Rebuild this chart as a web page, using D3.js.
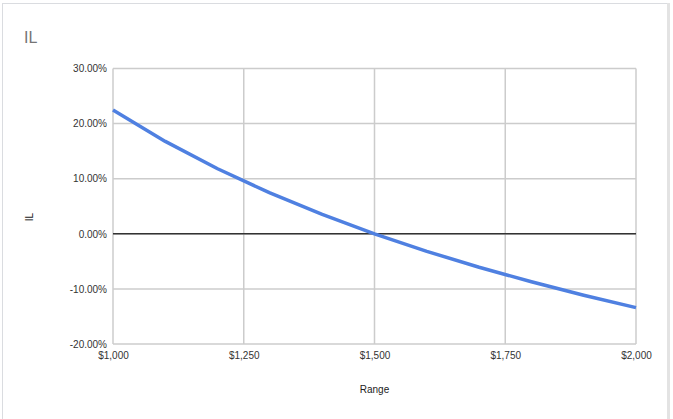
<!DOCTYPE html>
<html>
<head>
<meta charset="utf-8">
<script src="https://cdn.jsdelivr.net/npm/d3@7"></script>
<style>
  body { margin: 0; background: #fff; }
  text { font-family: Arial, "Liberation Sans", sans-serif; }
</style>
</head>
<body>
<svg id="chart" width="673" height="419"></svg>
<script>
// price points along the range and the IL value
var prices = [1000, 1100, 1200, 1300, 1400, 1500, 1600, 1700, 1800, 1900, 2000];
var ilValues = [0.2247, 0.1677, 0.1180, 0.0742, 0.0351, 0.0, -0.0318, -0.0607, -0.0871, -0.1115, -0.1340];
var xTicks = [1000, 1250, 1500, 1750, 2000];
var yTicks = [-0.2, -0.1, 0, 0.1, 0.2, 0.3];

var svg = d3.select("#chart");
var margin = {left: 113, right: 37, top: 68.5, bottom: 75};
var W = 673, H = 419;

// card frame
svg.append("rect")
    .attr("x", 2.5).attr("y", 3.5)
    .attr("width", 665).attr("height", 420)
    .attr("fill", "#fff")
    .attr("stroke", "#dadce0");
svg.append("rect")
    .attr("x", 667).attr("y", 3)
    .attr("width", 3).attr("height", 416)
    .attr("fill", "#e3e3e3");

var x = d3.scaleLinear().domain([1000, 2000]).range([margin.left, W - margin.right]);
var y = d3.scaleLinear().domain([-0.2, 0.3]).range([H - margin.bottom, margin.top]);

// grid
svg.append("g").selectAll("line").data(yTicks).join("line")
    .attr("x1", x(1000)).attr("x2", x(2000))
    .attr("y1", d => y(d)).attr("y2", d => y(d))
    .attr("stroke", "#cccccc")
    .attr("stroke-width", 1.5);
svg.append("g").selectAll("line").data(xTicks).join("line")
    .attr("x1", d => x(d)).attr("x2", d => x(d))
    .attr("y1", y(0.3)).attr("y2", y(-0.2))
    .attr("stroke", "#cccccc")
    .attr("stroke-width", 1.5);
// zero line on top
svg.append("line")
    .attr("x1", x(1000)).attr("x2", x(2000))
    .attr("y1", y(0)).attr("y2", y(0))
    .attr("stroke", "#333").attr("stroke-width", 1.6);

var pct = d3.format(".2f");
var yAxis = d3.axisLeft(y).tickValues(yTicks).tickSize(0).tickPadding(6)
    .tickFormat(d => pct(d * 100).replace("\u2212", "-") + "%");
var gy = svg.append("g").attr("transform", "translate(" + x(1000) + ",0)").call(yAxis);
gy.select(".domain").remove();
gy.selectAll("text").attr("font-size", 10).attr("fill", "#333").attr("font-family", "Arial, 'Liberation Sans', sans-serif");

var xAxis = d3.axisBottom(x).tickValues(xTicks).tickSize(0).tickPadding(8)
    .tickFormat(d => "$" + d3.format(",")(d));
var gx = svg.append("g").attr("transform", "translate(0," + y(-0.2) + ")").call(xAxis);
gx.select(".domain").remove();
gx.selectAll("text").attr("font-size", 10).attr("fill", "#333").attr("font-family", "Arial, 'Liberation Sans', sans-serif");

// line
var line = d3.line().x((d, i) => x(prices[i])).y(d => y(d));
svg.append("path")
    .datum(ilValues)
    .attr("d", line)
    .attr("fill", "none")
    .attr("stroke", "#4f80e1")
    .attr("stroke-width", 3.5)
    .attr("stroke-linejoin", "round");

// titles
svg.append("text").attr("x", 24).attr("y", 43)
    .attr("font-size", 16).attr("fill", "#757575").text("IL");
svg.append("text")
    .attr("transform", "translate(33,217) rotate(-90)")
    .attr("text-anchor", "middle")
    .attr("font-size", 10).attr("fill", "#222").text("IL");
svg.append("text").attr("x", x(1500)).attr("y", 393)
    .attr("text-anchor", "middle")
    .attr("font-size", 10).attr("fill", "#222").text("Range");
</script>
</body>
</html>
